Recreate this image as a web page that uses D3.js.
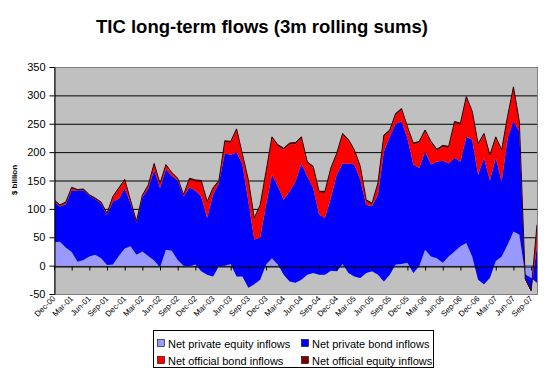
<!DOCTYPE html>
<html>
<head>
<meta charset="utf-8">
<script src="https://cdn.jsdelivr.net/npm/d3@7"></script>
<style>
  body { margin: 0; background: #fff; }
  svg { display: block; font-family: "Liberation Sans", Arial, sans-serif; }
</style>
</head>
<body>
<div id="chart"></div>
<script>
// month index 0 = Dec-00, last = Oct-07
const tickLabels = ["Dec-00","Mar-01","Jun-01","Sep-01","Dec-01","Mar-02","Jun-02","Sep-02",
    "Dec-02","Mar-03","Jun-03","Sep-03","Dec-03","Mar-04","Jun-04","Sep-04","Dec-04","Mar-05",
    "Jun-05","Sep-05","Dec-05","Mar-06","Jun-06","Sep-06","Dec-06","Mar-07","Jun-07","Sep-07"];

const privateEquity = [41,42,32,24,7,10,16,19,13,1,2,17,30,34,19,25,17,9,-3,28,26,10,0,-1,2,-10,-16,-19,-1,0,
    3,-19,-19,-39,-33,-25,2,13,2,-16,-28,-30,-25,-16,-13,-16,-16,-9,-10,3,-13,-19,-22,-13,-10,-16,-28,-16,2,3,
    5,-13,-1,28,16,13,5,16,25,34,40,16,-25,-33,-22,8,16,37,60,55,-15,-22,-30];
const privateBond = [72,62,76,109,125,123,107,98,96,88,111,101,106,76,56,95,119,159,140,142,132,140,122,139,130,132,100,144,146,198,
    192,219,197,152,79,74,105,147,138,132,159,178,205,173,150,106,100,128,170,177,193,197,173,120,115,141,229,243,248,251,
    219,191,173,173,162,170,180,164,165,149,187,206,185,223,172,182,132,187,195,181,-10,-23,65];
const officialBond = [1,1,2,3,0,0,0,0,1,1,7,17,14,3,1,2,4,10,6,6,4,2,1,13,16,25,26,9,2,19,
    21,38,15,35,35,55,56,64,70,88,82,66,44,23,35,38,44,50,35,50,39,23,21,6,2,18,26,9,15,20,
    18,35,44,35,38,19,24,27,61,65,68,47,52,40,42,34,53,36,57,15,0,0,34];
const officialEquity = [2,2,2,2,2,2,2,2,2,2,2,2,2,2,2,2,2,2,2,2,2,2,2,3,3,3,3,3,3,3,
    3,3,3,3,3,3,3,3,3,3,3,3,3,3,3,3,3,3,3,3,3,3,3,3,3,3,3,3,3,3,
    3,3,3,3,3,3,3,3,3,3,3,3,3,3,3,3,3,3,3,3,2,1,3];

const seriesNames = ["Net private equity inflows", "Net private bond inflows",
    "Net official bond inflows", "Net official equity inflows"];
const seriesColors = ["#9999FF", "#0000FF", "#FF0000", "#800000"];
const yTicks = [-50, 0, 50, 100, 150, 200, 250, 300, 350];

const width = 547, height = 374;
const plotLeft = 54, plotRight = 537, plotTop = 67, plotBottom = 294;

const svg = d3.select("#chart").append("svg")
    .attr("width", width)
    .attr("height", height);

const rows = privateEquity.map((v, i) => ({
    i: i, pe: v, pb: privateBond[i], ob: officialBond[i], oe: officialEquity[i]
}));

const x = d3.scaleLinear().domain([0, rows.length - 1]).range([plotLeft, plotRight]);
const y = d3.scaleLinear().domain([-50, 350]).range([plotBottom, plotTop]);

// title
svg.append("text")
    .attr("x", 262)
    .attr("y", 33)
    .attr("text-anchor", "middle")
    .attr("font-size", "18.5px")
    .attr("font-weight", "bold")
    .text("TIC long-term flows (3m rolling sums)");

// plot background
svg.append("rect")
    .attr("x", plotLeft).attr("y", plotTop)
    .attr("width", plotRight - plotLeft).attr("height", plotBottom - plotTop)
    .attr("fill", "#C0C0C0");

// gridlines
svg.append("g").selectAll("line")
    .data(yTicks.filter(d => d !== -50))
    .join("line")
    .attr("x1", plotLeft).attr("x2", plotRight)
    .attr("y1", d => y(d) + 0.5).attr("y2", d => y(d) + 0.5)
    .attr("stroke", "#000")
    .attr("stroke-width", 1);

// stacked areas (cumulative, Excel-like with negatives)
const stack = d3.stack()
    .keys(["pe", "pb", "ob", "oe"])
    .offset(d3.stackOffsetNone);
const layers = stack(rows);

const area = d3.area()
    .x(d => x(d.data.i))
    .y0(d => y(d[0]))
    .y1(d => y(d[1]));

svg.append("g").selectAll("path")
    .data(layers)
    .join("path")
    .attr("d", area)
    .attr("fill", (d, k) => seriesColors[k]);

// dark top outline
svg.append("path")
    .datum(layers[3])
    .attr("d", d3.line().x(d => x(d.data.i)).y(d => y(d[1])))
    .attr("fill", "none")
    .attr("stroke", "#300000")
    .attr("stroke-width", 1);

// plot border
svg.append("rect")
    .attr("x", plotLeft + 0.5).attr("y", plotTop + 0.5)
    .attr("width", plotRight - plotLeft).attr("height", plotBottom - plotTop)
    .attr("fill", "none")
    .attr("stroke", "#808080");

// x axis line at zero with ticks
const xTickIdx = d3.range(0, rows.length, 3);
svg.append("g")
    .attr("transform", `translate(0,${Math.round(y(0)) + 0.5})`)
    .call(d3.axisBottom(x).tickValues(xTickIdx).tickFormat("").tickSize(4).tickSizeOuter(0))
    .call(g => g.select(".domain").attr("stroke", "#000"));

// x labels at bottom, rotated
svg.append("g").selectAll("text")
    .data(xTickIdx)
    .join("text")
    .attr("transform", d => `translate(${x(d) + 2},${plotBottom + 5}) rotate(-45)`)
    .attr("text-anchor", "end")
    .attr("font-size", "8px")
    .attr("fill", "#000")
    .text((d, k) => tickLabels[k]);

// y axis
svg.append("g")
    .attr("transform", `translate(${plotLeft + 0.5},0)`)
    .call(d3.axisLeft(y).tickValues(yTicks).tickFormat(d => String(d)).tickSize(5).tickPadding(4).tickSizeOuter(0))
    .call(g => g.select(".domain").attr("stroke", "#000"))
    .call(g => g.selectAll("text").attr("font-size", "11px").attr("font-family", "Liberation Sans, Arial, sans-serif"));

// y label
svg.append("text")
    .attr("transform", "translate(17,180) rotate(-90)")
    .attr("text-anchor", "middle")
    .attr("font-size", "8px")
    .attr("font-weight", "bold")
    .text("$ billion");

// legend
const legend = svg.append("g");
legend.append("rect")
    .attr("x", 153.5).attr("y", 330.5)
    .attr("width", 280).attr("height", 37)
    .attr("fill", "#fff")
    .attr("stroke", "#000");

const legendPos = [[157, 344], [301, 344], [157, 361], [301, 361]];
seriesNames.forEach((name, k) => {
    const [lx, ly] = legendPos[k];
    legend.append("rect")
        .attr("x", lx + 0.5).attr("y", ly - 4.5)
        .attr("width", 7).attr("height", 7)
        .attr("fill", seriesColors[k])
        .attr("stroke", "#000")
        .attr("stroke-width", 0.6);
    legend.append("text")
        .attr("x", lx + 11)
        .attr("y", ly + 4)
        .attr("font-size", "11px")
        .text(name);
});
</script>
</body>
</html>
